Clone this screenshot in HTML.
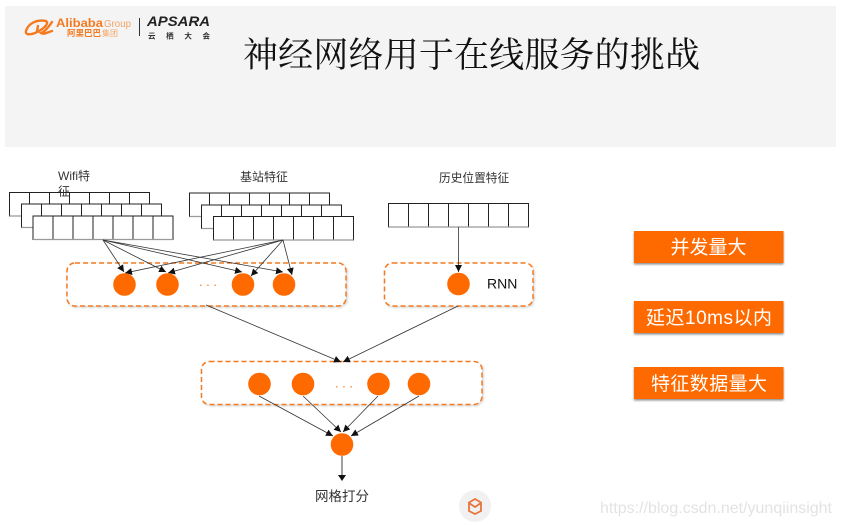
<!DOCTYPE html>
<html lang="zh">
<head>
<meta charset="utf-8">
<style>
html,body{margin:0;padding:0;background:#fff;width:841px;height:525px;overflow:hidden}
svg{display:block;position:absolute;left:0;top:0}
text{font-family:"Liberation Sans","Noto Sans CJK SC",sans-serif}
.cjk{font-family:"Liberation Sans","WenQuanYi Zen Hei","Noto Sans CJK SC",sans-serif}
.ttl{font-family:"Noto Serif CJK SC","Noto Sans CJK SC",serif}
.lb{font-size:12px;fill:#333}
.cell{fill:#fff;stroke:#222;stroke-width:1}
.dash{fill:#fff;stroke:#f47a20;stroke-width:1.500;stroke-dasharray:5 3;filter:url(#sh)}
.ln{stroke:#333;stroke-width:.8;fill:none;marker-end:url(#ah)}
.btn{fill:#ff6a00;filter:url(#bs)}
.bt{font-size:19px;fill:#fff;text-anchor:middle}
</style>
</head>
<body>
<svg width="841" height="525" viewBox="0 0 841 525" xmlns="http://www.w3.org/2000/svg">
<defs>
<marker id="ah" markerUnits="userSpaceOnUse" markerWidth="8" markerHeight="8" refX="7" refY="3.5" orient="auto"><path d="M0 0L7 3.5L0 7z" fill="#111"/></marker>
<filter id="sh" x="-5%" y="-15%" width="110%" height="130%"><feDropShadow dx="1" dy="1" stdDeviation="1" flood-color="#000" flood-opacity=".2"/></filter>
<filter id="bs" x="-5%" y="-15%" width="110%" height="135%"><feDropShadow dx="0" dy="1.5" stdDeviation="1" flood-color="#000" flood-opacity=".45"/></filter>
<filter id="soft"><feGaussianBlur stdDeviation=".35"/></filter>
<g id="row">
<rect class="cell" x="0" y="0" width="20" height="23.5"/><rect class="cell" x="20" y="0" width="20" height="23.5"/><rect class="cell" x="40" y="0" width="20" height="23.5"/><rect class="cell" x="60" y="0" width="20" height="23.5"/><rect class="cell" x="80" y="0" width="20" height="23.5"/><rect class="cell" x="100" y="0" width="20" height="23.5"/><rect class="cell" x="120" y="0" width="20" height="23.5"/>
<path d="M0 23.5H140" stroke="#999" stroke-width="1.2"/>
</g>
</defs>

<rect x="5" y="6" width="831" height="141" fill="#f4f4f4"/>

<!-- Alibaba logo -->
<g fill="none" stroke="#f47a20" stroke-width="2.4" stroke-linecap="round">
<path d="M46 21C36 19 28 24 26 31C25 35 30 35 35 33C42 30 50 24 46 21"/>
<path d="M38 26L37 31"/>
<path d="M52 22C48 28 44 32 41 33C44 35 48 32 52 31"/>
</g>
<text x="56" y="27" font-size="11.500" font-weight="700" fill="#f47a20" textLength="47" lengthAdjust="spacingAndGlyphs">Alibaba</text>
<text x="104" y="27" font-size="10" fill="#f6a261" textLength="27" lengthAdjust="spacingAndGlyphs">Group</text>
<text class="cjk" x="67" y="36" font-size="8.500" font-weight="700" fill="#f47a20">阿里巴巴</text>
<text class="cjk" x="102" y="36" font-size="8" fill="#f6a261">集团</text>
<path d="M139.500 18V36" stroke="#333" stroke-width="1"/>
<text x="147" y="26" font-size="14" font-weight="700" font-style="italic" fill="#222" textLength="63" lengthAdjust="spacingAndGlyphs">APSARA</text>
<text class="cjk" x="148" y="38.500" font-size="7.500" font-weight="700" fill="#333" textLength="62">云 栖 大 会</text>

<text class="ttl" x="243" y="67" font-size="35" fill="#111" textLength="457">神经网络用于在线服务的挑战</text>

<!-- stacks -->
<use href="#row" x="9.500" y="192.500"/>
<use href="#row" x="21.500" y="204"/>
<use href="#row" x="33" y="216"/>
<use href="#row" x="189.500" y="193"/>
<use href="#row" x="201.500" y="205"/>
<use href="#row" x="213.500" y="216.500"/>
<use href="#row" x="388.500" y="203.500"/>

<!-- labels -->
<text class="cjk lb" x="58" y="180" font-size="11">Wifi特</text>
<text class="cjk lb" x="58" y="195.500">征</text>
<text class="cjk lb" x="240" y="181">基站特征</text>
<text class="cjk" x="439" y="182" font-size="11.700" fill="#333">历史位置特征</text>

<!-- dashed groups -->
<rect class="dash" x="67" y="263" width="279" height="43" rx="8"/>
<rect class="dash" x="384.500" y="263" width="148.500" height="43" rx="8"/>
<rect class="dash" x="201.500" y="361.500" width="280.500" height="43" rx="8"/>

<!-- connectors -->
<path class="ln" d="M103 240L124 272"/>
<path class="ln" d="M103 240L166 272"/>
<path class="ln" d="M103 240L242 272"/>
<path class="ln" d="M103 240L283 272"/>
<path class="ln" d="M283 240L125 273"/>
<path class="ln" d="M283 240L168 273"/>
<path class="ln" d="M283 240L251 276"/>
<path class="ln" d="M283 240L292 275"/>
<path class="ln" d="M458.500 227V272"/>
<path class="ln" d="M206 305L341 362"/>
<path class="ln" d="M458 306L343 362"/>
<path class="ln" d="M259 396L333 436"/>
<path class="ln" d="M303 396L341 432"/>
<path class="ln" d="M378 396L343 432"/>
<path class="ln" d="M419 396L351 436"/>
<path d="M342 456V476" stroke="#888" stroke-width="1.600"/>
<path d="M338 475H346L342 481z" fill="#111"/>

<!-- nodes -->
<g fill="#ff6a00">
<circle cx="124.500" cy="284.500" r="11.300"/><circle cx="167.500" cy="284.500" r="11.300"/><circle cx="243" cy="284.500" r="11.300"/><circle cx="284" cy="284.500" r="11.300"/>
<circle cx="458.500" cy="284" r="11.300"/>
<circle cx="259.500" cy="384" r="11.300"/><circle cx="303" cy="384" r="11.300"/><circle cx="378.500" cy="384" r="11.300"/><circle cx="419" cy="384" r="11.300"/>
<circle cx="342" cy="444.500" r="11.300"/>
</g>
<text x="199" y="286" font-size="13" fill="#f47a20" letter-spacing="3.500">...</text>
<text x="335" y="387.500" font-size="13" fill="#f47a20" letter-spacing="3.500">...</text>
<text x="487" y="288.500" font-size="14" fill="#111">RNN</text>
<text class="cjk" x="315" y="501" font-size="13.500" fill="#333">网格打分</text>

<!-- buttons -->
<rect class="btn" x="634" y="231" width="149.500" height="32"/>
<rect class="btn" x="634" y="301" width="149.500" height="32"/>
<rect class="btn" x="634" y="367" width="149.500" height="32"/>
<text class="cjk bt" x="708.500" y="253.500">并发量大</text>
<text class="cjk bt" x="709" y="324" textLength="126">延迟10ms以内</text>
<text class="cjk bt" x="709" y="390" textLength="116">特征数据量大</text>

<!-- watermark -->
<circle cx="475" cy="506" r="16" fill="#f1f1f1"/>
<path d="M475 499L481 502.500V511L475 514L469 511V502.500zM469 503L475 507L481 503" fill="none" stroke="#e8743b" stroke-width="1.800"/>
<text x="600" y="513" font-size="16" fill="#e3e3e3" textLength="232" lengthAdjust="spacingAndGlyphs" filter="url(#soft)">https://blog.csdn.net/yunqiinsight</text>
</svg>
</body>
</html>
